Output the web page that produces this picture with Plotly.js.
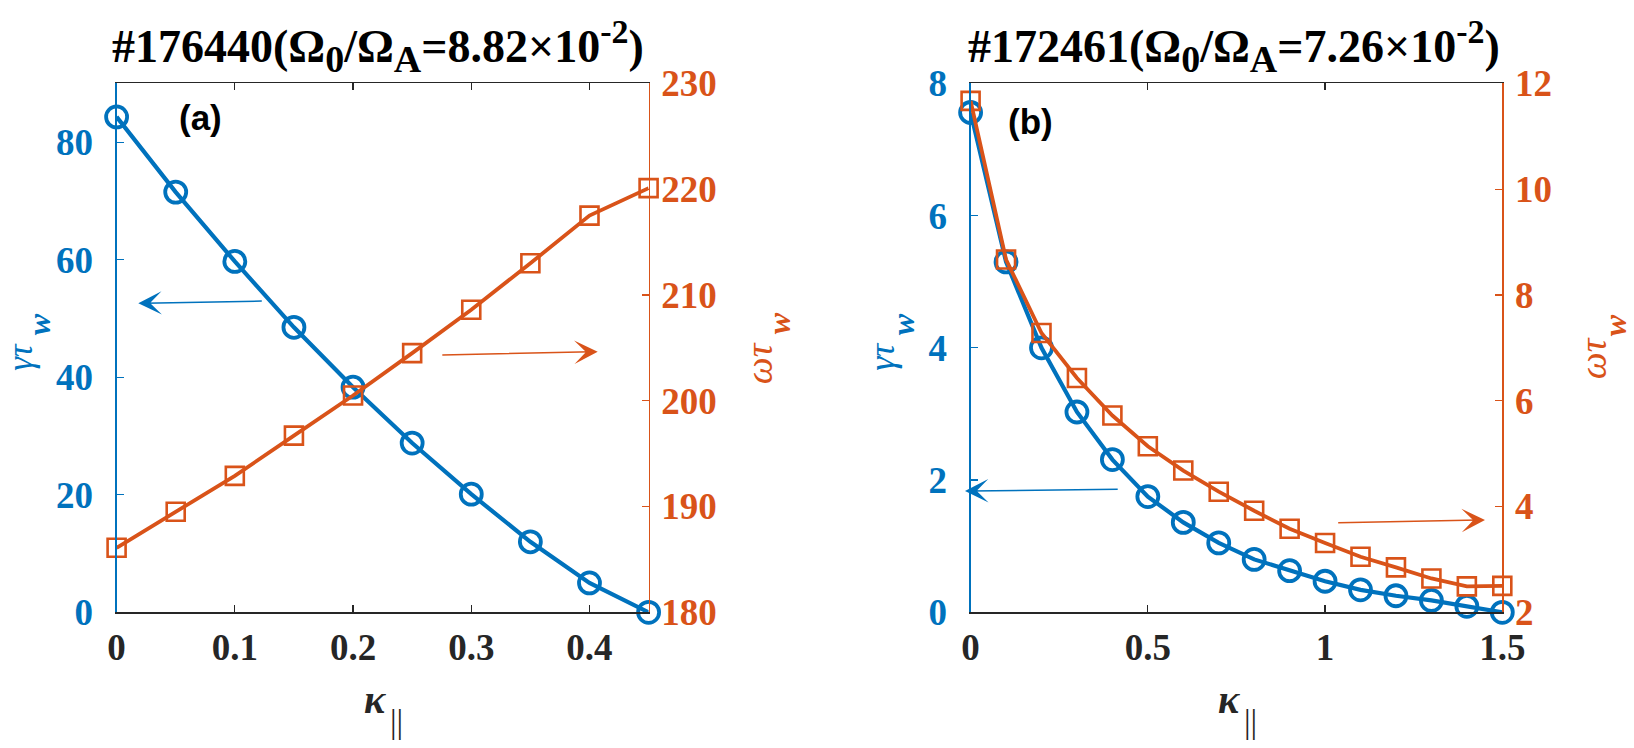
<!DOCTYPE html>
<html>
<head>
<meta charset="utf-8">
<script src="https://cdn.plot.ly/plotly-3.0.1.min.js"></script>
<style>html,body{margin:0;padding:0;background:#fff;}</style>
</head>
<body>
<div id="chart" style="width:1634px;height:748px;"></div>
<script>
// Shot #176440: growth rate and rotation frequency vs parallel closure coefficient
const kappaA = [0, 0.05, 0.10, 0.15, 0.20, 0.25, 0.30, 0.35, 0.40, 0.45];
const gammaTauA = [84.3, 71.5, 59.7, 48.5, 38.3, 28.8, 20.1, 12.0, 5.0, 0.0];
const omegaTauA = [186.1, 189.5, 192.9, 196.7, 200.5, 204.5, 208.6, 213.0, 217.5, 220.1];

// Shot #172461
const kappaB = [0, 0.1, 0.2, 0.3, 0.4, 0.5, 0.6, 0.7, 0.8, 0.9, 1.0, 1.1, 1.2, 1.3, 1.4, 1.5];
const gammaTauB = [7.56, 5.30, 4.00, 3.03, 2.31, 1.75, 1.36, 1.05, 0.80, 0.63, 0.47, 0.34, 0.25, 0.18, 0.09, 0.0];
const omegaTauB = [11.67, 8.67, 7.28, 6.43, 5.72, 5.14, 4.68, 4.28, 3.92, 3.58, 3.31, 3.05, 2.85, 2.64, 2.49, 2.50];

// Axis ticks
const xTicksA = [0, 0.1, 0.2, 0.3, 0.4];
const yTicksA = [0, 20, 40, 60, 80];
const y2TicksA = [180, 190, 200, 210, 220, 230];
const xTicksB = [0, 0.5, 1, 1.5];
const yTicksB = [0, 2, 4, 6, 8];
const y2TicksB = [2, 4, 6, 8, 10, 12];

const BLUE = '#0072BD';
const ORANGE = '#D95319';
const DARK = '#262626';
const SERIF = 'Liberation Serif, Times New Roman, serif';
const SANS = 'Liberation Sans, Arial, sans-serif';

const W = 1634, H = 748;
const px = v => v / W;          // horizontal pixel -> paper
const py = v => 1 - v / H;      // vertical pixel -> paper

const plotTop = 83.4, plotBottom = 612.3;
const yDomain = [py(plotBottom), py(plotTop)];

function circleTrace(x, y, xa, ya) {
  return {
    x: x, y: y, xaxis: xa, yaxis: ya, type: 'scatter', mode: 'lines+markers',
    line: {color: BLUE, width: 4.2},
    marker: {symbol: 'circle-open', size: 21, color: BLUE, line: {color: BLUE, width: 3.8}},
    showlegend: false, cliponaxis: false, hoverinfo: 'x+y'
  };
}
function squareTrace(x, y, xa, ya) {
  return {
    x: x, y: y, xaxis: xa, yaxis: ya, type: 'scatter', mode: 'lines+markers',
    line: {color: ORANGE, width: 3.8},
    marker: {symbol: 'square-open', size: 18, color: ORANGE, line: {color: ORANGE, width: 2.6}},
    showlegend: false, cliponaxis: false, hoverinfo: 'x+y'
  };
}

const data = [
  circleTrace(kappaA, gammaTauA, 'x', 'y'),
  squareTrace(kappaA, omegaTauA, 'x', 'y2'),
  circleTrace(kappaB, gammaTauB, 'x2', 'y3'),
  squareTrace(kappaB, omegaTauB, 'x2', 'y4')
];

function xAxis(domain, range, ticks, anchor) {
  return {
    domain: domain, range: range, anchor: anchor,
    tickmode: 'array', tickvals: ticks, ticktext: ticks.map(String),
    ticks: 'inside', ticklen: 7, tickwidth: 1.2, tickcolor: DARK,
    showline: true, linecolor: DARK, linewidth: 1.2, mirror: 'ticks',
    showgrid: false, zeroline: false,
    tickfont: {family: SERIF, size: 37, color: DARK, weight: 'bold'},
    ticklabelstandoff: 2
  };
}
function yAxis(range, ticks, color, side, anchor, overlay) {
  const ax = {
    domain: yDomain, range: range, anchor: anchor, side: side,
    tickmode: 'array', tickvals: ticks, ticktext: ticks.map(String),
    ticks: 'inside', ticklen: 7, tickwidth: 1.2, tickcolor: color,
    showline: true, linecolor: color, linewidth: 1.2,
    showgrid: false, zeroline: false,
    tickfont: {family: SERIF, size: 37, color: color, weight: 'bold'},
    ticklabelstandoff: side === 'left' ? 15 : 4
  };
  if (overlay) ax.overlaying = overlay;
  return ax;
}

const domA = [px(116.6), px(648.6)];
const domB = [px(970.6), px(1502.3)];

function label(text, x, y, opts) {
  return Object.assign({
    text: text, xref: 'paper', yref: 'paper', x: px(x), y: py(y),
    xanchor: 'center', yanchor: 'middle', showarrow: false
  }, opts);
}
// Text placed by its baseline: the annotation box is centred between ascent and descent
const ASC = 0.891, DESC = 0.216;
function baselineOffset(size) { return (ASC - DESC) / 2 * size; }
// rotated (-90) text whose baseline is the vertical line x = xb
function vLabel(text, xb, yc, size, color) {
  return label(text, xb - baselineOffset(size), yc,
    {textangle: -90, font: {family: SERIF, size: size, color: color}});
}
// horizontal text whose baseline is the line y = yb
function hLabel(text, xc, yb, size, color) {
  return label(text, xc, yb - baselineOffset(size),
    {font: {family: SERIF, size: size, color: color}});
}
function arrow(color, headX, headY, tailX, tailY) {
  return {
    text: '', xref: 'paper', yref: 'paper', x: px(headX), y: py(headY),
    ax: tailX - headX, ay: tailY - headY, axref: 'pixel', ayref: 'pixel',
    showarrow: true, arrowhead: 3, arrowsize: 2.6, arrowwidth: 1.5, arrowcolor: color
  };
}

const sub = t => '<sub><span style="font-size:38px">' + t + '</span></sub>';
const sup = t => '<sup><span style="font-size:34px">' + t + '</span></sup>';

const titleFont = {family: SERIF, size: 46, color: '#000000', weight: 'bold'};

const annotations = [
  // panel titles
  label('#176440(\u03A9' + sub('0') + '/\u03A9' + sub('A') + '=8.82\u00D710' + sup('-2') + ')', 378, 46, {font: titleFont}),
  label('#172461(\u03A9' + sub('0') + '/\u03A9' + sub('A') + '=7.26\u00D710' + sup('-2') + ')', 1234, 46, {font: titleFont}),
  // panel tags
  label('(a)', 200, 118, {font: {family: SANS, size: 35, color: '#000000', weight: 'bold'}}),
  label('(b)', 1030, 122, {font: {family: SANS, size: 35, color: '#000000', weight: 'bold'}}),
  // y-axis titles: main symbol and its subscript
  vLabel('<i>\u03B3\u03C4</i>', 31.5, 357, 35, BLUE),
  vLabel('<b><i>w</i></b>', 50, 324, 32, BLUE),
  vLabel('<i>\u03C9\u03C4</i>', 772, 363, 38, ORANGE),
  vLabel('<b><i>w</i></b>', 790, 323, 32, ORANGE),
  vLabel('<i>\u03B3\u03C4</i>', 894, 357, 36, BLUE),
  vLabel('<b><i>w</i></b>', 914, 324, 32, BLUE),
  vLabel('<i>\u03C9\u03C4</i>', 1606, 358, 38, ORANGE),
  vLabel('<b><i>w</i></b>', 1626, 325, 32, ORANGE),
  // x-axis titles
  hLabel('<b><i>\u03BA</i></b>', 375, 713, 40, DARK),
  hLabel('||', 396, 733, 33, DARK),
  hLabel('<b><i>\u03BA</i></b>', 1229, 713, 40, DARK),
  hLabel('||', 1250, 733, 33, DARK),
  // arrows pointing to the axis each curve belongs to
  arrow(BLUE, 138.3, 303.3, 263.3, 301.0),
  arrow(ORANGE, 597.7, 351.7, 440.8, 355.0),
  arrow(BLUE, 965.0, 491.0, 1119.2, 489.3),
  arrow(ORANGE, 1485.0, 520.0, 1336.7, 522.7)
];

const layout = {
  width: W, height: H,
  margin: {l: 0, r: 0, t: 0, b: 0, pad: 0},
  paper_bgcolor: '#ffffff', plot_bgcolor: '#ffffff',
  showlegend: false,
  xaxis: xAxis(domA, [0, 0.45], xTicksA, 'y'),
  yaxis: yAxis([0, 90], yTicksA, BLUE, 'left', 'x'),
  yaxis2: yAxis([180, 230], y2TicksA, ORANGE, 'right', 'x', 'y'),
  xaxis2: xAxis(domB, [0, 1.5], xTicksB, 'y3'),
  yaxis3: yAxis([0, 8], yTicksB, BLUE, 'left', 'x2'),
  yaxis4: yAxis([2, 12], y2TicksB, ORANGE, 'right', 'x2', 'y3'),
  annotations: annotations
};

Plotly.newPlot('chart', data, layout, {staticPlot: true, displayModeBar: false});
</script>
</body>
</html>
